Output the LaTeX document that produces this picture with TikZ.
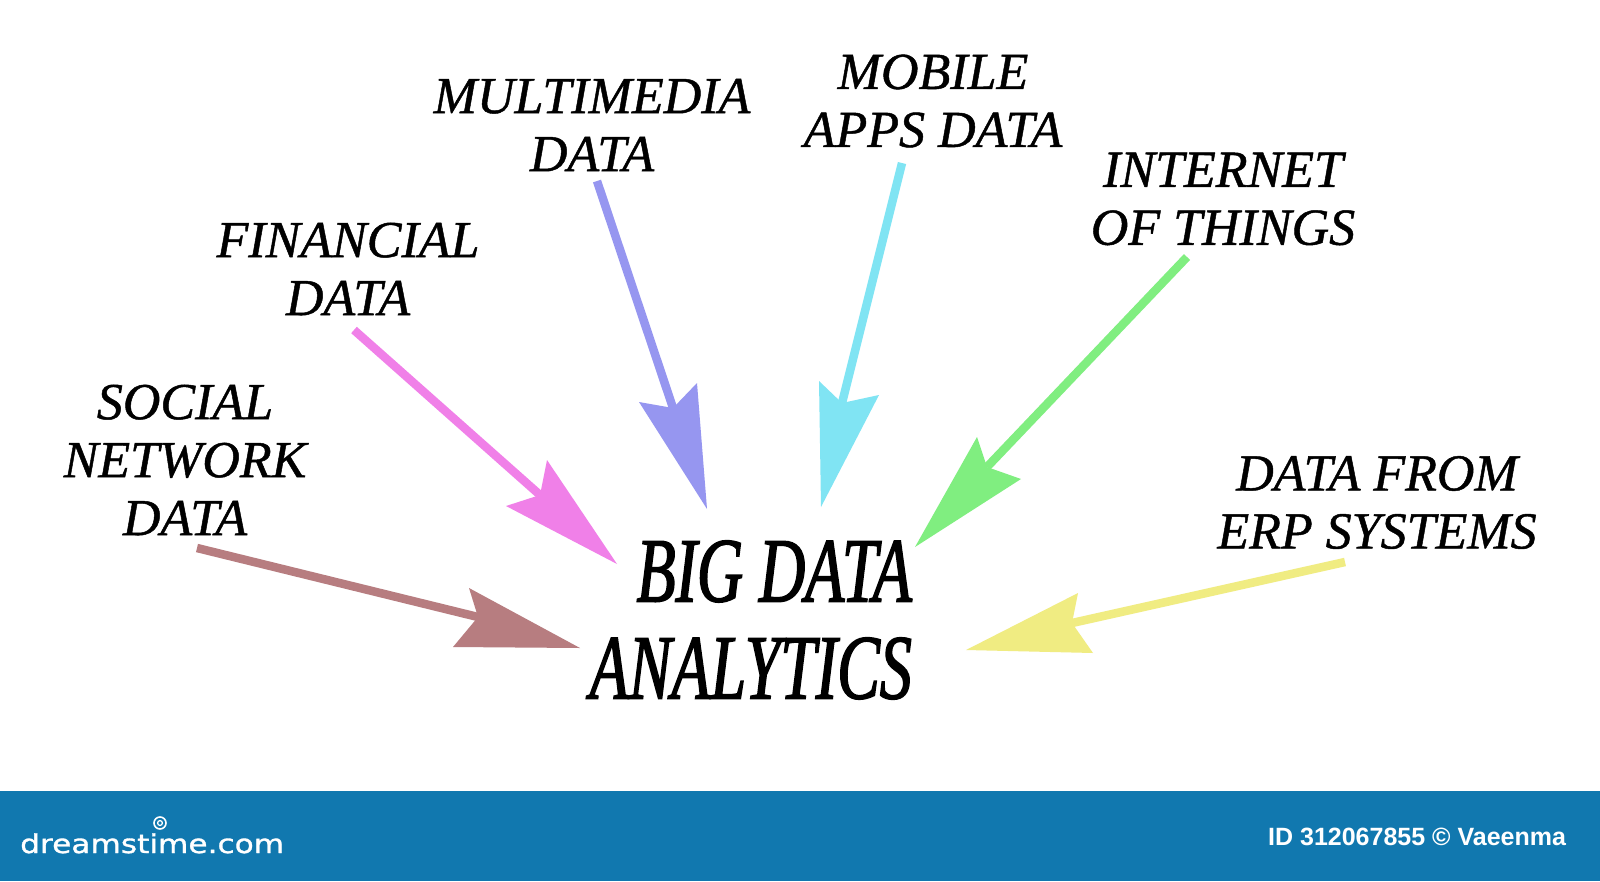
\documentclass[tikz,border=0pt]{standalone}
\usepackage{fontspec}
\setmainfont{Liberation Serif}
\newfontfamily\lblfont[ItalicFeatures={FakeBold=0.9}]{Liberation Serif}
\newfontfamily\hubfont[FakeStretch=0.695, ItalicFeatures={FakeBold=1.6}]{Liberation Serif}
\newfontfamily\logofont[FakeStretch=1.2, FakeBold=1.2]{DejaVu Sans}
\newfontfamily\idfont{Liberation Sans}
\definecolor{cBrown}{RGB}{183,125,128}
\definecolor{cPink}{RGB}{240,128,232}
\definecolor{cPurple}{RGB}{150,150,240}
\definecolor{cCyan}{RGB}{128,228,243}
\definecolor{cGreen}{RGB}{128,238,128}
\definecolor{cYellow}{RGB}{240,236,130}
\definecolor{cBar}{RGB}{17,120,175}
\tikzset{
  lbl/.style={font=\lblfont\itshape\fontsize{52}{58}\selectfont, align=center, inner sep=0pt, text=black},
  hubtext/.style={font=\hubfont\itshape\fontsize{92}{97}\selectfont, align=right, inner sep=0pt, text=black},
  shaft/.style={line width=8.5pt, line cap=butt},
  barlogo/.style={font=\logofont\fontsize{26}{26}\selectfont, text=white, inner sep=0pt},
  barid/.style={font=\idfont\bfseries\fontsize{25}{25}\selectfont, text=white, inner sep=0pt},
}
\begin{document}
\begin{tikzpicture}[x=1pt, y=-1pt]
\path[use as bounding box, fill=white] (0,0) rectangle (1600,881);

% labels
\node[lbl] (social) at (185,460) {SOCIAL\\NETWORK\\DATA};
\node[lbl] (financial) at (348,269) {FINANCIAL\\DATA};
\node[lbl] (multimedia) at (592,125) {MULTIMEDIA\\DATA};
\node[lbl] (mobile) at (933,101) {MOBILE\\APPS DATA};
\node[lbl] (iot) at (1223,199) {INTERNET\\OF THINGS};
\node[lbl] (erp) at (1377,502.5) {DATA FROM\\ERP SYSTEMS};
\node[hubtext, anchor=east] (hub) at (912,620) {BIG DATA\\ANALYTICS};

% arrow geometry (tail, notch, barb, tip, barb)
\coordinate (bT) at (197,548);  \coordinate (bN) at (478,617);
\coordinate (bA) at (469,588);  \coordinate (bP) at (580,648);  \coordinate (bB) at (453,647);

\coordinate (pT) at (354,330);  \coordinate (pN) at (540,495);
\coordinate (pA) at (547,460);  \coordinate (pP) at (617,564);  \coordinate (pB) at (506,506);

\coordinate (uT) at (597,181);  \coordinate (uN) at (673,408);
\coordinate (uA) at (697,383);  \coordinate (uP) at (707,509);  \coordinate (uB) at (639,402);

\coordinate (cT) at (902,163);  \coordinate (cN) at (842,403);
\coordinate (cA) at (819,381);  \coordinate (cP) at (821,507);  \coordinate (cB) at (879,395);

\coordinate (gT) at (1187,257); \coordinate (gN) at (987,467);
\coordinate (gA) at (977,437);  \coordinate (gP) at (915,547);  \coordinate (gB) at (1021,479);

\coordinate (yT) at (1345,562); \coordinate (yN) at (1072,623);
\coordinate (yA) at (1078,593); \coordinate (yP) at (966,650);  \coordinate (yB) at (1093,653);

% arrows
\draw[shaft, cBrown] (bT) -- (bN);
\fill[cBrown] (bA) -- (bP) -- (bB) -- (bN) -- cycle;
\draw[shaft, cPink] (pT) -- (pN);
\fill[cPink] (pA) -- (pP) -- (pB) -- (pN) -- cycle;
\draw[shaft, cPurple] (uT) -- (uN);
\fill[cPurple] (uA) -- (uP) -- (uB) -- (uN) -- cycle;
\draw[shaft, cCyan] (cT) -- (cN);
\fill[cCyan] (cA) -- (cP) -- (cB) -- (cN) -- cycle;
\draw[shaft, cGreen] (gT) -- (gN);
\fill[cGreen] (gA) -- (gP) -- (gB) -- (gN) -- cycle;
\draw[shaft, cYellow] (yT) -- (yN);
\fill[cYellow] (yA) -- (yP) -- (yB) -- (yN) -- cycle;

% bottom bar
\fill[cBar] (0,791) rectangle (1600,881);
\node[barlogo, anchor=base west] (logo) at (20,853) {dreamstime.com};
\draw[white, line width=1.6pt] (160,823) circle (6);
\draw[white, line width=1.3pt] (160,823) circle (2.4);
\node[barid, anchor=base west] (imgid) at (1268,845) {ID 312067855 © Vaeenma};
\end{tikzpicture}
\end{document}
